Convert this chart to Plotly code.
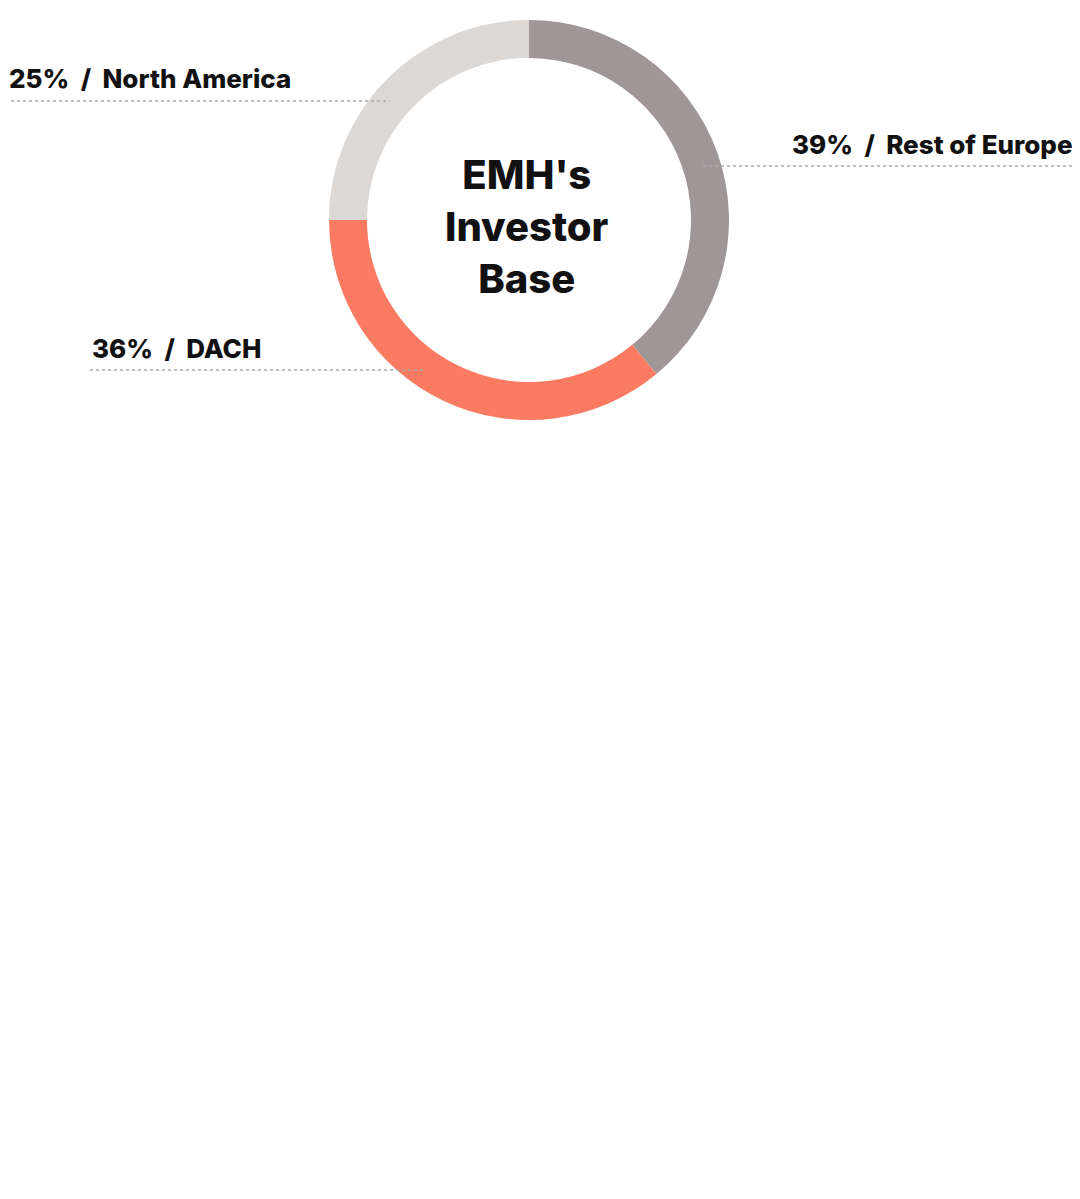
import plotly.graph_objects as go

W, H = 1080, 1199
PAGE_PAD = 8  # default body margin of the html page

regions = ["Rest of Europe", "DACH", "North America"]
shares = [39, 36, 25]
colors = ["#9f9797", "#fb7a62", "#dcd8d6"]
center_title = "EMH's<br>Investor<br>Base"

FONT = "Inter"

# figure fills the page to the right edge; keep the bottom inside the window
FW, FH = W - PAGE_PAD, H - 2 * PAGE_PAD


def px_x(x):
    return (x - PAGE_PAD) / FW


def px_y(y):
    # page pixel from top -> paper from bottom
    return 1 - (y - PAGE_PAD) / FH


# donut: centre (529, 220), outer radius 200 px
cx, cy, r = 529, 220, 200

fig = go.Figure(
    go.Pie(
        labels=regions,
        values=shares,
        sort=False,
        direction="clockwise",
        rotation=0,
        hole=0.81,
        marker=dict(colors=colors, line=dict(width=0)),
        textinfo="none",
        hovertemplate="%{label}: %{value}%<extra></extra>",
        domain=dict(x=[px_x(cx - r), px_x(cx + r)],
                    y=[px_y(cy + r), px_y(cy - r)]),
        showlegend=False,
    )
)

# label text + dotted leader line per slice (page pixel positions)
label_pos = {
    "North America":  dict(tx=7,    ty=79,  anchor="left",  line=(5, 390, 101)),
    "Rest of Europe": dict(tx=1075, ty=145, anchor="right", line=(703, 1080, 166)),
    "DACH":           dict(tx=90,   ty=348, anchor="left",  line=(90, 425, 370)),
}

for name, val in zip(regions, shares):
    p = label_pos[name]
    fig.add_annotation(
        x=px_x(p["tx"]), y=px_y(p["ty"]), xref="paper", yref="paper",
        text=f"{val}%  /  {name}",
        showarrow=False, xanchor=p["anchor"], yanchor="middle",
        font=dict(family=FONT, size=26, color="#111111", weight=800),
    )
    x0, x1, ly = p["line"]
    fig.add_shape(
        type="line", xref="paper", yref="paper",
        x0=px_x(x0), x1=px_x(x1), y0=px_y(ly), y1=px_y(ly),
        line=dict(color="#aaaaaa", width=1.5, dash="dot"),
    )

fig.add_annotation(
    x=px_x(527), y=px_y(226), xref="paper", yref="paper",
    text=center_title,
    showarrow=False, xanchor="center", yanchor="middle",
    font=dict(family=FONT, size=40, color="#111111", weight=800),
)

fig.update_layout(
    width=FW, height=FH,
    margin=dict(l=0, r=0, t=0, b=0),
    paper_bgcolor="white",
    plot_bgcolor="white",
)

fig.write_html("out.html")
